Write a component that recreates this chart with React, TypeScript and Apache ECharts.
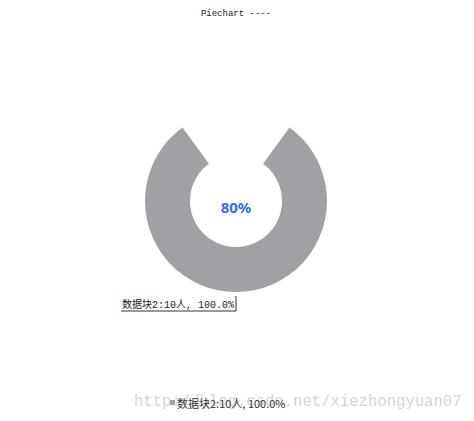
import React, { useEffect, useRef } from "react";
import * as echarts from "echarts";

// ---- data ----
const chartTitle = "Piechart ----";
const categories = ["数据块2"];
const personCounts = [10];
const percentLabels = ["100.0%"];
const ringShares = [80]; // visible ring share (%)
const gapShares = [20]; // empty part of the ring (%)
const centerTexts = ["80%"];
const watermarkTexts = ["http://blog.csdn.net/xiezhongyuan07"];

const itemName = (i: number) =>
  `${categories[i]}:${personCounts[i]}人, ${percentLabels[i]}`;

export default function App() {
  const ref = useRef<HTMLDivElement>(null);

  useEffect(() => {
    if (!ref.current) return;
    const chart = echarts.init(ref.current, null, { renderer: "svg" });

    const names = categories.map((_, i) => itemName(i));
    const data: any[] = [];
    categories.forEach((_, i) => {
      data.push({
        name: names[i],
        value: ringShares[i],
        itemStyle: { color: "#a1a0a5" },
      });
      data.push({
        name: "__gap" + i,
        value: gapShares[i],
        itemStyle: { color: "rgba(0,0,0,0)" },
        label: { show: false },
        labelLine: { show: false },
        emphasis: { disabled: true },
        tooltip: { show: false },
      });
    });

    chart.setOption({
      animation: false,
      backgroundColor: "#ffffff",
      title: {
        text: chartTitle,
        left: 231,
        top: 4,
        textAlign: "center",
        textStyle: {
          fontFamily: "'Liberation Mono', monospace",
          fontSize: 9,
          fontWeight: "normal",
          color: "#222222",
        },
      },
      legend: {
        data: names,
        left: 165,
        top: 392,
        itemWidth: 5,
        itemHeight: 5,
        itemGap: 10,
        icon: "rect",
        textStyle: {
          fontFamily: "'Noto Sans CJK SC', sans-serif",
          fontSize: 11,
          color: "#333333",
          padding: [0, 0, 0, -3],
        },
      },
      graphic: [
        {
          type: "text",
          z: -1,
          left: 134,
          top: 394,
          silent: true,
          style: {
            text: watermarkTexts[0],
            fontFamily: "'Liberation Mono', monospace",
            fontSize: 15.6,
            fill: "rgba(170,170,170,0.5)",
          },
        },
        {
          type: "text",
          x: 236,
          y: 207,
          style: {
            text: centerTexts[0],
            fontFamily: "'Noto Sans', sans-serif",
            fontSize: 15,
            fontWeight: "bold",
            fill: "#2f6ff0",
            align: "center",
            verticalAlign: "middle",
          },
        },
      ],
      series: [
        {
          type: "pie",
          center: [236, 201],
          radius: [46, 91],
          startAngle: 54,
          clockwise: true,
          avoidLabelOverlap: false,
          data,
          label: {
            show: true,
            formatter: "{b}",
            fontFamily: "'Liberation Mono', 'Noto Sans CJK SC', monospace",
            fontSize: 10,
            color: "#222222",
          },
          labelLine: {
            show: true,
            length: 12,
            length2: 100,
            lineStyle: { color: "#333333", width: 1 },
          },
          labelLayout: (p: any) => {
            if (p.dataIndex !== 0) return {};
            const cx = p.rect.x + p.rect.width / 2;
            const bottom = p.rect.y + p.rect.height;
            const lineY = bottom + 19;
            const w = p.labelRect.width;
            return {
              x: cx - w - 2,
              y: lineY - 1,
              align: "left",
              verticalAlign: "bottom",
              labelLinePoints: [
                [cx, bottom + 4],
                [cx, lineY],
                [cx - w - 3, lineY],
              ],
            };
          },
          emphasis: { scale: false },
        },
      ],
    });

    return () => chart.dispose();
  }, []);

  return (
    <div
      ref={ref}
      style={{ position: "fixed", left: 0, top: 0, width: 474, height: 421 }}
    />
  );
}
